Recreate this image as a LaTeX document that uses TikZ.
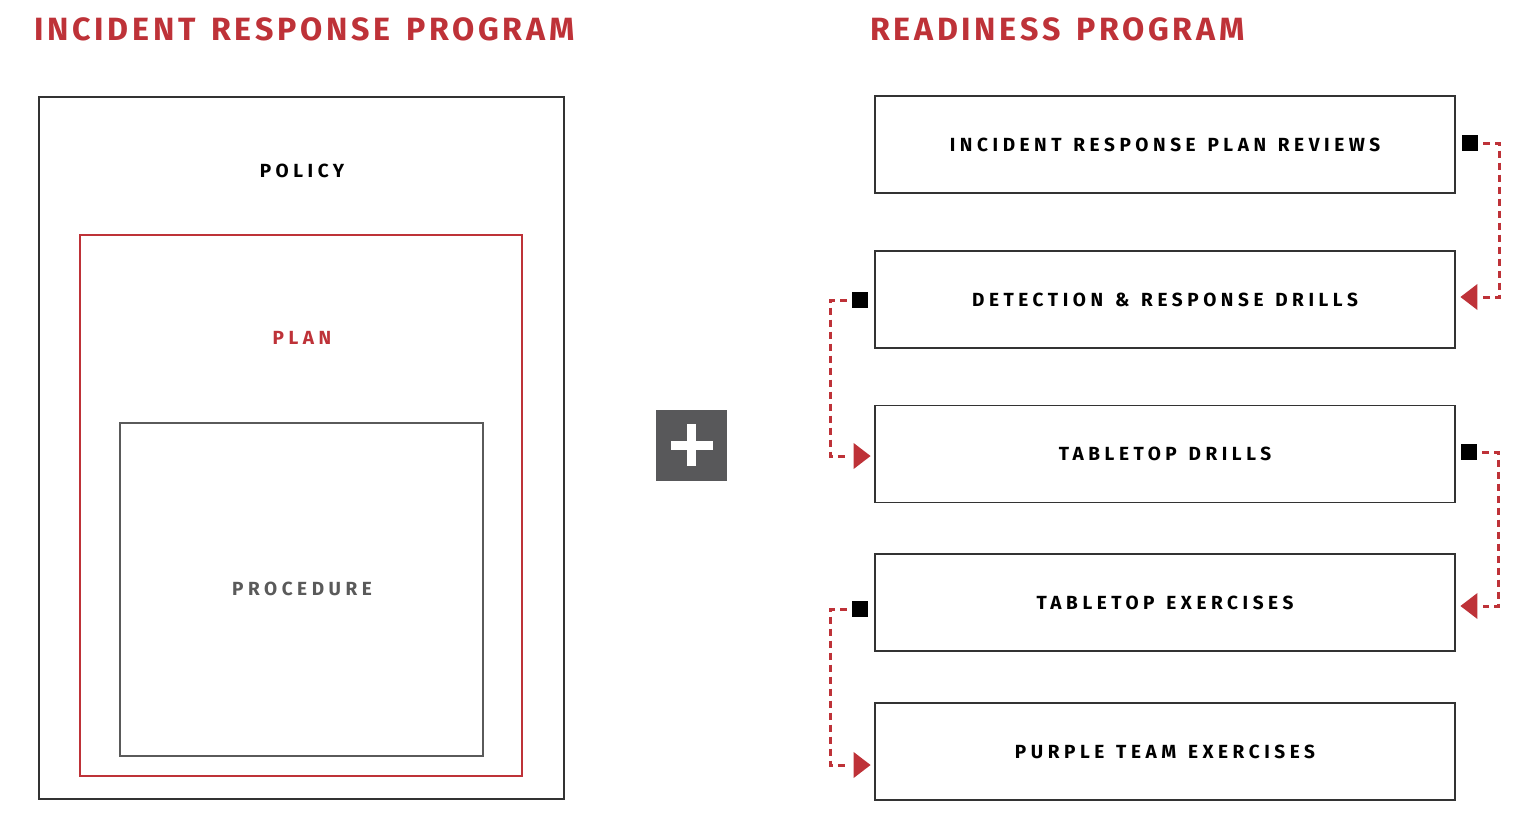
\documentclass[tikz,border=0pt]{standalone}
\usepackage{fontspec}
\usetikzlibrary{shapes.geometric,calc}
\setmainfont{Fira Sans}
\newfontfamily\titlefont[LetterSpace=11.5,WordSpace=1.4]{Fira Sans}
\newfontfamily\labelfont[LetterSpace=24,WordSpace=1.3]{Fira Sans}
\definecolor{rred}{HTML}{BE3238}
\definecolor{dgray}{HTML}{333333}
\definecolor{mgray}{HTML}{5A5A5A}
\definecolor{pgray}{HTML}{58585A}
\tikzset{
  title/.style={anchor=west, text=rred, font=\titlefont\bfseries\fontsize{32.2}{36}\selectfont, inner sep=0pt},
  rbox/.style={draw=dgray, line width=1.8pt, minimum width=580pt, minimum height=97pt, inner sep=0pt,
    font=\labelfont\bfseries\fontsize{19}{22}\selectfont, text=black},
  lbl/.style={font=\labelfont\bfseries\fontsize{19}{22}\selectfont, inner sep=0pt},
  sq/.style={fill=black, minimum size=16pt, inner sep=0pt},
  tri/.style={isosceles triangle, isosceles triangle apex angle=75, fill=rred, inner sep=0pt, minimum height=17pt, minimum width=22pt},
  conn/.style={draw=rred, line width=3pt, dash pattern=on 7pt off 5pt}
}
\begin{document}
\begin{tikzpicture}[x=1pt,y=-1pt]
\useasboundingbox (0,0) rectangle (1536,822);
% titles
\node[title] (t1) at (34,29) {INCIDENT RESPONSE PROGRAM};
\node[title] (t2) at (870,29) {READINESS PROGRAM};
% left nested boxes
\draw[draw=dgray, line width=1.8pt] (39,97) rectangle (564,799);
\draw[draw=rred, line width=1.3pt] (80,235) rectangle (522,776);
\draw[draw=mgray, line width=1.3pt] (120,423) rectangle (483,756);
\node[lbl, text=black] (policy) at (302,171) {POLICY};
\node[lbl, text=rred] (plan) at (302,338) {PLAN};
\node[lbl, text=mgray] (proc) at (302,589) {PROCEDURE};
% plus
\node[fill=pgray, minimum size=71pt, inner sep=0pt] (plus) at (691.5,445) {};
\fill[white] ($(plus.center)+(-21,-4.5)$) rectangle ($(plus.center)+(21,4.5)$);
\fill[white] ($(plus.center)+(-4.5,-21)$) rectangle ($(plus.center)+(4.5,21)$);
% right boxes
\node[rbox] (b1) at (1165,144.5) {INCIDENT RESPONSE PLAN REVIEWS};
\node[rbox] (b2) at (1165,299.5) {DETECTION \& RESPONSE DRILLS};
\node[rbox] (b3) at (1165,454) {TABLETOP DRILLS};
\node[rbox] (b4) at (1165,602.5) {TABLETOP EXERCISES};
\node[rbox] (b5) at (1165,751.5) {PURPLE TEAM EXERCISES};
% markers
\node[sq] (s1) at (1470,143) {};
\node[tri, shape border rotate=180] (a1) at (1471,297) {};
\node[sq] (s2) at (860,300) {};
\node[tri] (a2) at (860,456) {};
\node[sq] (s3) at (1469,452) {};
\node[tri, shape border rotate=180] (a3) at (1471,606) {};
\node[sq] (s4) at (860,609) {};
\node[tri] (a4) at (860,765) {};
% connectors
\draw[conn] ([xshift=5pt]s1.east) -| ([xshift=22pt]a1.east) -- ([xshift=5pt]a1.east);
\draw[conn] ([xshift=-5pt]s2.west) -| ([xshift=-23pt]a2.west) -- ([xshift=-5pt]a2.west);
\draw[conn] ([xshift=5pt]s3.east) -| ([xshift=21pt]a3.east) -- ([xshift=5pt]a3.east);
\draw[conn] ([xshift=-5pt]s4.west) -| ([xshift=-23pt]a4.west) -- ([xshift=-5pt]a4.west);
\end{tikzpicture}
\end{document}
